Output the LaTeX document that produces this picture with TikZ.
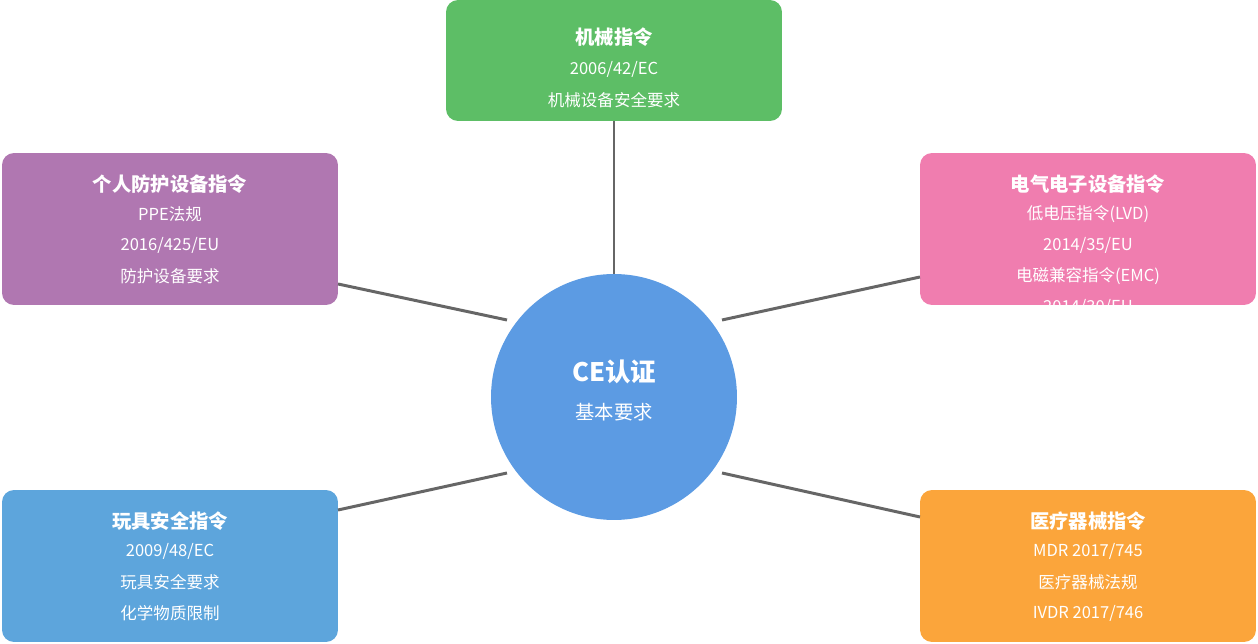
\documentclass[tikz,border=0pt]{standalone}
\usepackage{fontspec}
\setmainfont{Noto Sans CJK SC}
\usetikzlibrary{positioning}
\definecolor{cGreen}{HTML}{5DBE66}
\definecolor{cPurple}{HTML}{B077B1}
\definecolor{cPink}{HTML}{F07DAF}
\definecolor{cBlue}{HTML}{5DA5DC}
\definecolor{cOrange}{HTML}{FBA53B}
\definecolor{cCore}{HTML}{5C9BE3}
\definecolor{cLine}{HTML}{666666}
\tikzset{
  boxed/.style={rounded corners=0.24cm, minimum width=6.72cm, minimum height=#1, inner sep=0pt},
  ttl/.style={text=white, font=\bfseries\fontsize{11}{13}\selectfont},
  txt/.style={text=white, font=\fontsize{9.4}{11}\selectfont},
  link/.style={draw=cLine, line width=1.7pt}
}
\begin{document}
\begin{tikzpicture}[x=0.02cm, y=-0.02cm]
    \useasboundingbox (0,0) rectangle (1258,644);
    % boxes
    \node[boxed=2.42cm, fill=cGreen]  (mach) at (614,60.5) {};
    \node[boxed=3.04cm, fill=cPurple] (ppe)  at (170,229) {};
    \node[boxed=3.04cm, fill=cPink]   (elec) at (1088,229) {};
    \node[boxed=3.04cm, fill=cBlue]   (toy)  at (170,566) {};
    \node[boxed=3.04cm, fill=cOrange] (med)  at (1088,566) {};

    % connector ends
    \coordinate (m1) at (614,121);  \coordinate (m2) at (614,274);
    \coordinate (p1) at (338,284);  \coordinate (p2) at (507,320);
    \coordinate (e1) at (920,277);  \coordinate (e2) at (722,320);
    \coordinate (t1) at (338,510);  \coordinate (t2) at (507,473);
    \coordinate (d1) at (920,517);  \coordinate (d2) at (722,473);
    \draw[link] (mach.south) -- (m2);
    \draw[link] (p1) -- (p2);
    \draw[link] (e1) -- (e2);
    \draw[link] (t1) -- (t2);
    \draw[link] (d1) -- (d2);

    \node[circle, fill=cCore, minimum size=4.92cm, inner sep=0pt] (ce) at (614,397) {};
    \node[text=white, font=\bfseries\fontsize{14.5}{16}\selectfont] at (614,372) {CE认证};
    \node[text=white, font=\fontsize{11}{13}\selectfont] at (614,412) {基本要求};

    % texts
    \node[ttl] at (614,37) {机械指令};
    \node[txt] at (614,69) {2006/42/EC};
    \node[txt] at (614,100) {机械设备安全要求};

    \node[ttl] at (170,184) {个人防护设备指令};
    \node[txt] at (170,214) {PPE法规};
    \node[txt] at (170,245) {2016/425/EU};
    \node[txt] at (170,276) {防护设备要求};

    \begin{scope}
      \clip (920,153) rectangle (1256,312);
      \node[ttl] at (1088,184) {电气电子设备指令};
      \node[txt] at (1088,214) {低电压指令(LVD)};
      \node[txt] at (1088,245) {2014/35/EU};
      \node[txt] at (1088,276) {电磁兼容指令(EMC)};
      \node[txt] at (1088,307) {2014/30/EU};
    \end{scope}

    \node[ttl] at (170,521) {玩具安全指令};
    \node[txt] at (170,551) {2009/48/EC};
    \node[txt] at (170,582) {玩具安全要求};
    \node[txt] at (170,613) {化学物质限制};

    \node[ttl] at (1088,521) {医疗器械指令};
    \node[txt] at (1088,551) {MDR 2017/745};
    \node[txt] at (1088,582) {医疗器械法规};
    \node[txt] at (1088,613) {IVDR 2017/746};
\end{tikzpicture}
\end{document}
